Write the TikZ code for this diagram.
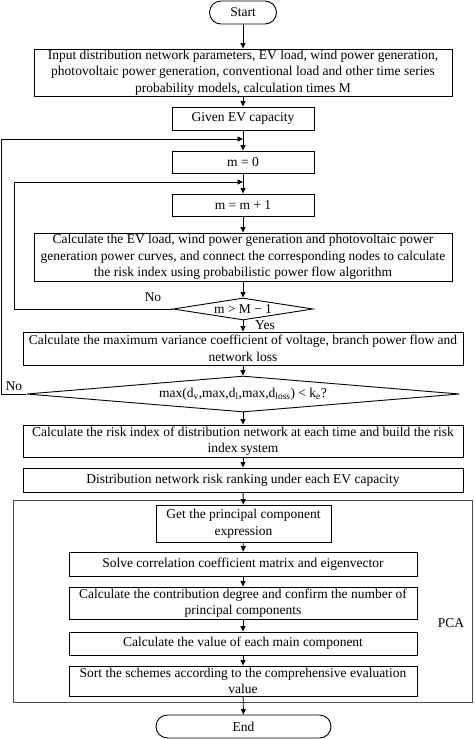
\documentclass[tikz,border=0pt]{standalone}
\usepackage{fontspec}
\setmainfont{Liberation Serif}
\usetikzlibrary{arrows.meta,shapes.geometric}
\begin{document}
\begin{tikzpicture}[x=1pt,y=-1pt,
  txt/.style={font=\fontsize{13.5}{16.5}\selectfont},
  box/.style={txt,draw,line width=0.9pt,inner sep=0pt,align=center},
  term/.style={box,rounded corners=11.5pt},
  dec/.style={txt,draw,line width=0.9pt,shape=diamond,inner sep=0pt},
  frame/.style={draw=black!70,line width=0.9pt,inner sep=0pt},
  arr/.style={line width=0.9pt,-{Triangle[length=5.5pt,width=5pt]}},
  lbl/.style={txt,inner sep=0pt}]
\useasboundingbox (0,0) rectangle (474,739);
\node[frame,minimum width=459.5,minimum height=202] (pca) at (242.75,601) {};
\node[lbl] (pcal) at (451,623) {PCA};
\node[term,minimum width=67,minimum height=23] (start) at (243,12.5) {Start};
\node[box,minimum width=418,minimum height=47] (input) at (243,72.5) {Input distribution network parameters, EV load, wind power generation,\\ photovoltaic power generation, conventional load and other time series\\ probability models, calculation times M};
\node[box,minimum width=142,minimum height=23] (given) at (243,118.5) {Given EV capacity};
\node[box,minimum width=142,minimum height=22] (m0) at (243,162) {m = 0};
\node[box,minimum width=142,minimum height=22] (m1) at (243,205) {m = m + 1};
\node[box,minimum width=418,minimum height=48] (calc) at (243,257) {Calculate the EV load, wind power generation and photovoltaic power\\ generation power curves, and connect the corresponding nodes to calculate\\ the risk index using probabilistic power flow algorithm};
\node[dec,aspect=6.4,minimum width=140,minimum height=22] (d1) at (243,309) {m > M − 1};
\node[box,minimum width=440,minimum height=33] (maxvar) at (243,348.5) {Calculate the maximum variance coefficient of voltage, branch power flow and\\ network loss};
\node[dec,aspect=12,minimum width=433,minimum height=36] (d2) at (243,394) {max(d\textsubscript{v},max,d\textsubscript{l},max,d\textsubscript{loss}) < k\textsubscript{e}?};
\node[box,minimum width=440,minimum height=32] (risk) at (243,441) {Calculate the risk index of distribution network at each time and build the risk\\ index system};
\node[box,minimum width=440,minimum height=24] (rank) at (243,480) {Distribution network risk ranking under each EV capacity};
\node[box,minimum width=175,minimum height=37] (gpc) at (243.5,523.5) {Get the principal component\\ expression};
\node[box,minimum width=348,minimum height=24] (solve) at (243,564) {Solve correlation coefficient matrix and eigenvector};
\node[box,minimum width=348,minimum height=32] (contrib) at (243,603) {Calculate the contribution degree and confirm the number of\\ principal components};
\node[box,minimum width=348,minimum height=23] (value) at (243,643.5) {Calculate the value of each main component};
\node[box,minimum width=348,minimum height=30] (sort) at (243,681) {Sort the schemes according to the comprehensive evaluation\\ value};
\node[term,minimum width=175,minimum height=23] (end) at (243.5,726.5) {End};
\node[lbl] (no1) at (153,297) {No};
\node[lbl] (yes) at (265,325) {Yes};
\node[lbl] (no2) at (14,386) {No};
\coordinate (j1) at (243,139);
\coordinate (j2) at (243,182);
\draw[arr] (start) -- (input);
\draw[arr] (input) -- (given);
\draw[arr] (given) -- (m0);
\draw[arr] (m0) -- (m1);
\draw[arr] (m1) -- (calc);
\draw[arr] (calc) -- (d1);
\draw[arr] (d1) -- (maxvar);
\draw[arr] (maxvar) -- (d2);
\draw[arr] (d2) -- (risk);
\draw[arr] (risk) -- (rank);
\draw[arr] (rank) -- (gpc);
\draw[arr] (gpc) -- (solve);
\draw[arr] (solve) -- (contrib);
\draw[arr] (contrib) -- (value);
\draw[arr] (value) -- (sort);
\draw[arr] (sort) -- (end);
\draw[arr] (d1.west) -- ++(-158,0) |- (j2);
\draw[arr] (d2.west) -- ++(-24.5,0) |- (j1);
\end{tikzpicture}
\end{document}
